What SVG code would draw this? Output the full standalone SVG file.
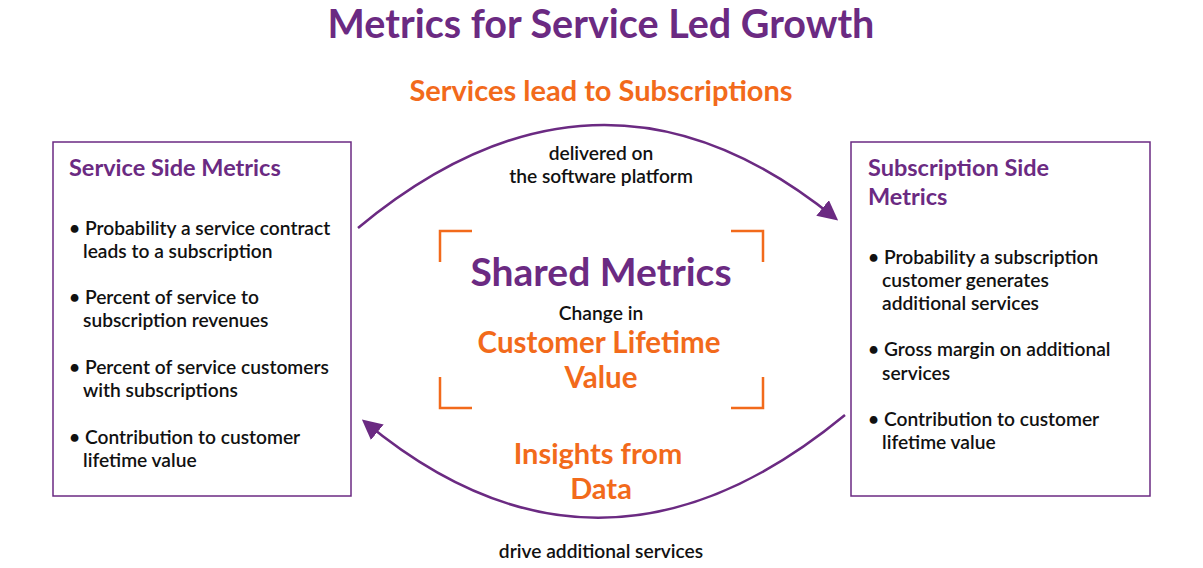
<svg xmlns="http://www.w3.org/2000/svg" width="1203" height="568" viewBox="0 0 1203 568">
<style>
text{font-family:Lato,"Noto Sans",sans-serif}
.p{fill:#6b2a82;font-weight:bold}
.o{fill:#f26a1b;font-weight:bold}
.b{fill:#111;font-size:19.2px;font-weight:600}
.box{fill:#fff;stroke:#6b2a82;stroke-width:1.5}
.arc{fill:none;stroke:#6b2a82;stroke-width:2.5}
.br{fill:none;stroke:#f26a1b;stroke-width:2.5}
</style>
<defs><marker id="a" viewBox="0 0 10 10" refX="8" refY="5" markerWidth="8" markerHeight="8" orient="auto"><path d="M0,0L10,5L0,10z" fill="#6b2a82"/></marker></defs>
<text x="601" y="38" text-anchor="middle" class="p" font-size="39.5">Metrics for Service Led Growth</text>
<text x="601" y="101" text-anchor="middle" class="o" font-size="29">Services lead to Subscriptions</text>
<g id="connectors">
<path class="arc" d="M358,228 Q600,27 835,218" marker-end="url(#a)"/>
<path class="arc" d="M845,415 Q600,617 365,422" marker-end="url(#a)"/>
<text x="601" y="160" text-anchor="middle" class="b">delivered on</text>
<text x="601" y="183" text-anchor="middle" class="b">the software platform</text>
<text x="601" y="558" text-anchor="middle" class="b">drive additional services</text>
<text x="598" y="464" text-anchor="middle" class="o" font-size="29">Insights from</text>
<text x="601" y="499" text-anchor="middle" class="o" font-size="29">Data</text>
</g>
<g id="left">
<rect class="box" x="53" y="142" width="298" height="354"/>
<text x="69" y="176" class="p" font-size="23.5">Service Side Metrics</text>
<text class="b"><tspan x="69" y="235">• Probability a service contract</tspan><tspan x="83" y="258">leads to a subscription</tspan>
<tspan x="69" y="304">• Percent of service to</tspan><tspan x="83" y="327">subscription revenues</tspan>
<tspan x="69" y="374">• Percent of service customers</tspan><tspan x="83" y="397">with subscriptions</tspan>
<tspan x="69" y="444">• Contribution to customer</tspan><tspan x="83" y="467">lifetime value</tspan></text>
</g>
<g id="right">
<rect class="box" x="851" y="142" width="299" height="354"/>
<text class="p" font-size="23.5"><tspan x="868" y="176">Subscription Side</tspan><tspan x="868" y="205">Metrics</tspan></text>
<text class="b"><tspan x="868" y="264">• Probability a subscription</tspan><tspan x="882" y="287">customer generates</tspan><tspan x="882" y="310">additional services</tspan>
<tspan x="868" y="356">• Gross margin on additional</tspan><tspan x="882" y="380">services</tspan>
<tspan x="868" y="426">• Contribution to customer</tspan><tspan x="882" y="449">lifetime value</tspan></text>
</g>
<g id="center">
<path class="br" d="M440,262V231H472M731,231H763V262M440,377V408H472M731,408H763V377"/>
<text x="601" y="286" text-anchor="middle" class="p" font-size="39">Shared Metrics</text>
<text x="601" y="320" text-anchor="middle" class="b">Change in</text>
<text x="599" y="353" text-anchor="middle" class="o" font-size="29.5">Customer Lifetime</text>
<text x="601" y="388" text-anchor="middle" class="o" font-size="29.5">Value</text>
</g>
</svg>
